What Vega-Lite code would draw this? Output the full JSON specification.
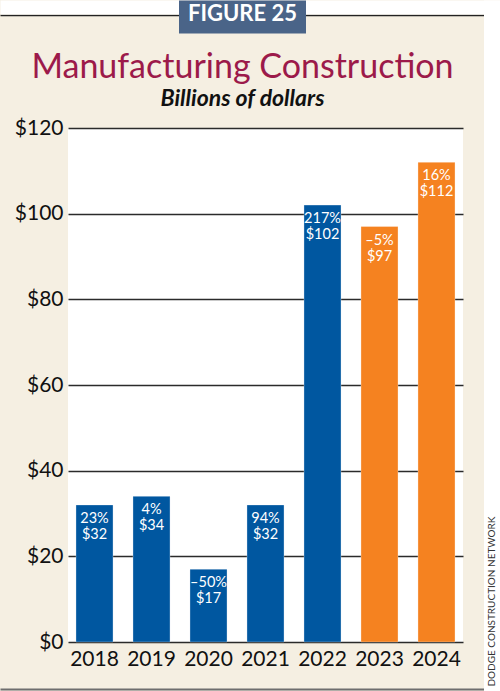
{
  "$schema": "https://vega.github.io/schema/vega-lite/v6.json",
  "width": 395,
  "height": 514,
  "autosize": "none",
  "padding": {"left": 68, "top": 128, "right": 37, "bottom": 49},
  "background": "#f5efe2",
  "title": {
    "text": "Manufacturing Construction",
    "subtitle": "Billions of dollars",
    "anchor": "middle",
    "frame": "group",
    "dx": -23,
    "dy": 174,
    "offset": 0,
    "font": "Lato",
    "fontSize": 34,
    "fontWeight": "normal",
    "color": "#9c1a4a",
    "subtitleFont": "Lato",
    "subtitleFontSize": 23,
    "subtitleFontStyle": "italic",
    "subtitleFontWeight": "bold",
    "subtitleColor": "#111111",
    "subtitlePadding": 3
  },
  "data": {
    "values": [
      {"year": "2018", "value": 32, "label": "23%\n$32", "kind": "actual"},
      {"year": "2019", "value": 34, "label": "4%\n$34", "kind": "actual"},
      {"year": "2020", "value": 17, "label": "–50%\n$17", "kind": "actual"},
      {"year": "2021", "value": 32, "label": "94%\n$32", "kind": "actual"},
      {"year": "2022", "value": 102, "label": "217%\n$102", "kind": "actual"},
      {"year": "2023", "value": 97, "label": "–5%\n$97", "kind": "forecast"},
      {"year": "2024", "value": 112, "label": "16%\n$112", "kind": "forecast"}
    ]
  },
  "layer": [
    {
      "mark": {"type": "bar", "stroke": "#ffffff", "strokeOpacity": 0.3, "strokeWidth": 1},
      "encoding": {
        "x": {
          "field": "year",
          "type": "ordinal",
          "scale": {"paddingInner": 0.35, "paddingOuter": 0.14},
          "axis": {
            "orient": "bottom",
            "labelAngle": 0,
            "labelFont": "Lato",
            "labelFontSize": 21,
            "labelColor": "#111111",
            "labelPadding": 6,
            "ticks": false,
            "domain": false,
            "title": null
          }
        },
        "y": {
          "field": "value",
          "type": "quantitative",
          "scale": {"domain": [-12, 150], "range": [565.4, -128.5], "nice": false, "zero": false},
          "axis": {
            "orient": "left",
            "values": [0, 20, 40, 60, 80, 100, 120],
            "labelExpr": "'$' + datum.value",
            "grid": true,
            "gridColor": "#2b2b2b",
            "gridWidth": 1.5,
            "domain": false,
            "ticks": false,
            "labelFont": "Lato",
            "labelFontSize": 21,
            "labelColor": "#111111",
            "labelPadding": 5,
            "title": null
          }
        },
        "color": {
          "field": "kind",
          "type": "nominal",
          "scale": {"domain": ["actual", "forecast"], "range": ["#0057a0", "#f58220"]},
          "legend": null
        }
      }
    },
    {
      "mark": {
        "type": "text",
        "baseline": "top",
        "dy": 7,
        "color": "white",
        "font": "Lato",
        "fontSize": 14.5,
        "lineBreak": "\n",
        "lineHeight": 16
      },
      "encoding": {
        "x": {
          "field": "year",
          "type": "ordinal",
          "axis": {
            "orient": "top",
            "values": ["2021"],
            "offset": 95,
            "domain": false,
            "grid": false,
            "ticks": true,
            "tickSize": 33,
            "tickWidth": 127,
            "tickColor": "#4a6488",
            "tickOffset": -23.5,
            "labelExpr": "'FIGURE 25'",
            "labelColor": "white",
            "labelFont": "Lato",
            "labelFontWeight": "bold",
            "labelFontSize": 22,
            "labelPadding": -25,
            "labelAngle": 0,
            "title": null,
            "zindex": 3
          }
        },
        "y": {
          "field": "value",
          "type": "quantitative",
          "axis": {
            "orient": "right",
            "labels": false,
            "ticks": false,
            "domain": false,
            "grid": false,
            "title": "DODGE CONSTRUCTION NETWORK",
            "titleAngle": 270,
            "titleFont": "Lato",
            "titleFontSize": 10,
            "titleFontWeight": "normal",
            "titleColor": "#333333",
            "titleX": 28,
            "titleY": 473,
            "titleAlign": "center",
            "titleBaseline": "middle",
            "zindex": 4
          }
        },
        "text": {"field": "label"}
      }
    },
    {
      "mark": {"type": "point", "opacity": 0},
      "encoding": {
        "x": {
          "field": "year",
          "type": "ordinal",
          "axis": {
            "orient": "top",
            "values": ["2024"],
            "offset": -563,
            "domain": false,
            "grid": false,
            "labels": false,
            "ticks": true,
            "tickSize": 691,
            "tickWidth": 17,
            "tickColor": "white",
            "tickOffset": 55.5,
            "title": null,
            "zindex": 2
          }
        },
        "y": {
          "field": "value",
          "type": "quantitative",
          "axis": {
            "orient": "left",
            "values": [148.2, 146.4, -11],
            "offset": -432,
            "domain": false,
            "grid": false,
            "labels": false,
            "ticks": true,
            "tickSize": 500,
            "tickWidth": {
              "condition": [
                {"test": "datum.value > 148", "value": 14},
                {"test": "datum.value < 0", "value": 2}
              ],
              "value": 1.5
            },
            "tickColor": {
              "condition": [
                {"test": "datum.value > 148", "value": "white"},
                {"test": "datum.value < 0", "value": "#6e6e6e"}
              ],
              "value": "#222222"
            },
            "title": null,
            "zindex": 1
          }
        }
      }
    }
  ],
  "resolve": {"axis": {"x": "independent", "y": "independent"}},
  "config": {"view": {"stroke": null, "fill": "white"}}
}
